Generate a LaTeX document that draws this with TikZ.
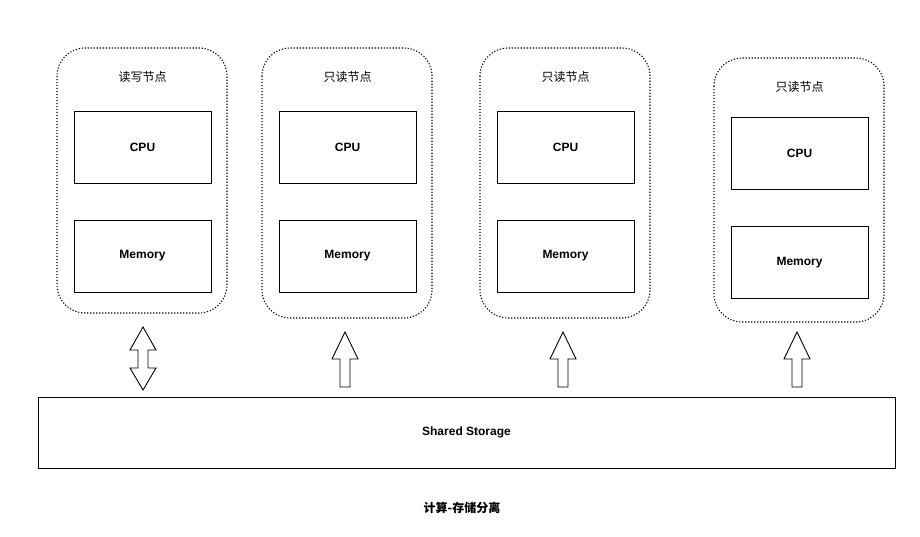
\documentclass[tikz,border=0pt]{standalone}
\usepackage{fontspec}
\setmainfont{Liberation Sans}
\newfontfamily\cjk{Noto Sans CJK SC}
\begin{document}
\begin{tikzpicture}[x=1pt,y=-1pt,
  grp/.style={draw,dash pattern=on 1.2pt off 1.8pt,line width=1.1pt,rounded corners=28pt},
  box/.style={draw,line width=0.8pt,minimum width=137pt,minimum height=72pt,font=\bfseries\fontsize{12}{14}\selectfont},
  ttl/.style={font=\cjk\fontsize{12}{14}\selectfont},
  arr/.style={draw,line width=0.9pt,fill=white}]
\useasboundingbox (0,0) rectangle (920,536);
\newcommand\nodegroup[6]{%
  \draw[grp] (#2,#3) rectangle (#2+170,#3+#4);
  \node[ttl] (t#1) at (#2+85.5,#3+29) {#5};
  \node[box] (c#1) at (#2+85.5,#3+#6) {CPU};
  \node[box] (m#1) at (#2+85.5,#3+#6+109) {Memory};
}
\nodegroup{1}{57}{48}{265}{读写节点}{99}
\nodegroup{2}{262}{48}{270}{只读节点}{99}
\nodegroup{3}{480}{48}{270}{只读节点}{99}
\nodegroup{4}{714}{58}{264}{只读节点}{95.5}
\node[draw,line width=0.8pt,minimum width=857pt,minimum height=71pt,font=\bfseries\fontsize{12}{14}\selectfont] (s) at (466.5,432.5) {Shared Storage};
\node[font=\cjk\bfseries\fontsize{12}{14}\selectfont] (cap) at (462,508) {计算-存储分离};
\draw[arr] (143,327) -- (156,350) -- (148,350) -- (148,368) -- (156,368) -- (143,390) -- (130,368) -- (138,368) -- (138,350) -- (130,350) -- cycle;
\foreach \x in {345,563,797}{
  \draw[arr] (\x,332) -- (\x+13,359) -- (\x+5,359) -- (\x+5,387) -- (\x-5,387) -- (\x-5,359) -- (\x-13,359) -- cycle;
}
\end{tikzpicture}
\end{document}
